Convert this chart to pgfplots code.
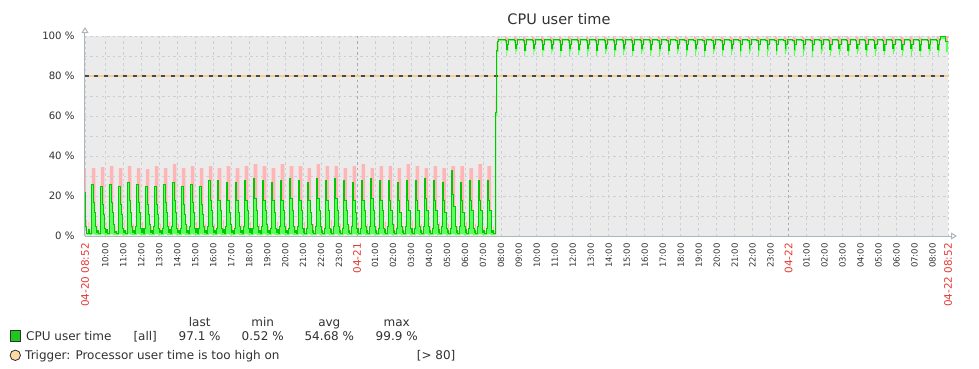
\documentclass[border=0pt]{standalone}
\usepackage{pgfplots}
\pgfplotsset{compat=1.18}
\usepackage{pgfplotstable}
\usepgfplotslibrary{fillbetween}
\usetikzlibrary{arrows.meta}
\usepackage{fontspec}
\setmainfont{DejaVu Sans}
\definecolor{zbg}{HTML}{EBEBEB}
\definecolor{zpink}{HTML}{FFB5B5}
\definecolor{zlgreen}{HTML}{5CFF5C}
\definecolor{zgreen}{HTML}{00C800}
\definecolor{zgrid}{HTML}{C9D1D5}
\definecolor{zday}{HTML}{A3ACB1}
\definecolor{zaxis}{HTML}{ACB6BD}
\definecolor{ztext}{HTML}{2F3133}
\definecolor{zred}{HTML}{E53935}
\definecolor{ztrig}{HTML}{F5D08A}
\definecolor{zdash}{HTML}{4A4A4A}
\definecolor{zleg}{HTML}{1DC71D}
\definecolor{zlegtrig}{HTML}{FFD9A3}
\pgfplotstableread{
t mn av mx
532 3 22 34
535 1 5 8
538 0.5 1.5 3
543 0.8 3.5 7
546 0.5 1.5 2.5
552 0.5 4 6
555 1 26 34
559 1 17 34
563 0.8 12 34
567 0.5 5 8
570 0.5 2 3
573 0.6 3 6
576 0.5 1.5 2.5
582 0.5 5 7
585 1 25 34.5
589 1 16 34.5
593 0.8 11 34.5
597 0.5 4 7
600 0.5 2 3
603 0.6 3.5 7
606 0.5 1.5 2.5
612 0.5 4 6
615 1 26 35
619 1 17 35
623 0.8 12 35
627 0.5 6 8
630 0.5 2 3
633 0.6 2.5 5
636 0.5 1.5 2.5
642 0.5 5 7
645 1 25 34
649 1 16 34
653 0.8 11 34
657 0.5 4 7
660 0.5 2 3
663 0.6 3 8
666 0.5 1.5 2.5
672 0.5 4 6
675 1 27 35
679 1 18 35
683 0.8 12 35
687 0.5 5 7
690 0.5 2 3
693 0.6 3 6
696 0.5 1.5 2.5
702 0.5 5 7
705 1 26 34
709 1 17 34
713 0.8 12 34
717 0.5 4 7
720 0.5 2 3
723 0.6 4 7
726 0.5 1.5 2.5
732 0.5 4 6
735 1 25 33.5
739 1 16 33.5
743 0.8 11 33.5
747 0.5 6 8
750 0.5 2 3
753 0.6 3 5
756 0.5 1.5 2.5
762 0.5 5 7
765 1 25 35
769 1 16 35
773 0.8 11 35
777 0.5 4 7
780 0.5 2 3
783 0.6 3 6
786 0.5 1.5 2.5
792 0.5 4 6
795 1 26 34
799 1 17 34
803 0.8 12 34
807 0.5 5 8
810 0.5 2 3
813 0.6 3.5 7
816 0.5 1.5 2.5
822 0.5 5 7
825 1 27 36
829 1 18 36
833 0.8 12 36
837 0.5 4 7
840 0.5 2 3
843 0.6 3 6
846 0.5 1.5 2.5
852 0.5 4 6
855 1 25 34
859 1 16 34
863 0.8 11 34
867 0.5 6 8
870 0.5 2 3
873 0.6 3 5
876 0.5 1.5 2.5
882 0.5 5 7
885 1 26 35
889 1 17 35
893 0.8 12 35
897 0.5 4 7
900 0.5 2 3
903 0.6 4 7
906 0.5 1.5 2.5
912 0.5 4 6
915 1 25 34
919 1 16 34
923 0.8 11 34
927 0.5 5 7
930 0.5 2 3
933 0.6 3 6
936 0.5 1.5 2.5
942 0.5 5 7
945 1 28 35
949 1 18 35
953 0.8 13 35
957 0.5 5 8
960 0.5 2 3
963 0.6 3 6
966 0.5 1.5 2.5
972 0.5 4 6
975 1 28 34
979 1 18 34
983 0.8 13 34
987 0.5 4 7
990 0.5 2 3
993 0.6 3.5 8
996 0.5 1.5 2.5
1002 0.5 5 7
1005 1 27 35
1009 1 18 35
1013 0.8 12 35
1017 0.5 6 8
1020 0.5 2 3
1023 0.6 3 5
1026 0.5 1.5 2.5
1032 0.5 4 6
1035 1 27 34
1039 1 18 34
1043 0.8 12 34
1047 0.5 5 8
1050 0.5 2 3
1053 0.6 3 6
1056 0.5 1.5 2.5
1062 0.5 5 7
1065 1 28 35
1069 1 18 35
1073 0.8 13 35
1077 0.5 4 7
1080 0.5 2 3
1083 0.6 4 7
1086 0.5 1.5 2.5
1092 0.5 4 6
1095 1 29 36
1099 1 19 36
1103 0.8 13 36
1107 0.5 5 7
1110 0.5 2 3
1113 0.6 3 6
1116 0.5 1.5 2.5
1122 0.5 5 7
1125 1 28 35
1129 1 18 35
1133 0.8 13 35
1137 0.5 6 8
1140 0.5 2 3
1143 0.6 3 5
1146 0.5 1.5 2.5
1152 0.5 4 6
1155 1 27 34
1159 1 18 34
1163 0.8 12 34
1167 0.5 4 7
1170 0.5 2 3
1173 0.6 3.5 7
1176 0.5 1.5 2.5
1182 0.5 5 7
1185 1 28 36
1189 1 18 36
1193 0.8 13 36
1197 0.5 5 8
1200 0.5 2 3
1203 0.6 3 6
1206 0.5 1.5 2.5
1212 0.5 4 6
1215 1 29 35
1219 1 19 35
1223 0.8 13 35
1227 0.5 5 7
1230 0.5 2 3
1233 0.6 3 5
1236 0.5 1.5 2.5
1242 0.5 5 7
1245 1 28 35
1249 1 18 35
1253 0.8 13 35
1257 0.5 4 7
1260 0.5 2 3
1263 0.6 4 7
1266 0.5 1.5 2.5
1272 0.5 4 6
1275 1 27 34
1279 1 18 34
1283 0.8 12 34
1287 0.5 6 8
1290 0.5 2 3
1293 0.6 3 6
1296 0.5 1.5 2.5
1302 0.5 5 7
1305 1 29 36
1309 1 19 36
1313 0.8 13 36
1317 0.5 5 7
1320 0.5 2 3
1323 0.6 3 5
1326 0.5 1.5 2.5
1332 0.5 4 6
1335 1 28 35
1339 1 18 35
1343 0.8 13 35
1347 0.5 4 7
1350 0.5 2 3
1353 0.6 3.5 8
1356 0.5 1.5 2.5
1362 0.5 5 7
1365 1 29 35
1369 1 19 35
1373 0.8 13 35
1377 0.5 5 8
1380 0.5 2 3
1383 0.6 3 6
1386 0.5 1.5 2.5
1392 0.5 4 6
1395 1 28 34
1399 1 18 34
1403 0.8 13 34
1407 0.5 6 8
1410 0.5 2 3
1413 0.6 3 5
1416 0.5 1.5 2.5
1422 0.5 5 7
1425 1 27 35
1429 1 18 35
1433 0.8 12 35
1437 0.5 4 7
1440 0.5 2 3
1443 0.6 4 7
1446 0.5 1.5 2.5
1452 0.5 4 6
1455 1 28 36
1459 1 18 36
1463 0.8 13 36
1467 0.5 5 8
1470 0.5 2 3
1473 0.6 3 6
1476 0.5 1.5 2.5
1482 0.5 5 7
1485 1 29 34
1489 1 19 34
1493 0.8 13 34
1497 0.5 5 7
1500 0.5 2 3
1503 0.6 3 5
1506 0.5 1.5 2.5
1512 0.5 4 6
1515 1 28 35
1519 1 18 35
1523 0.8 13 35
1527 0.5 4 7
1530 0.5 2 3
1533 0.6 3.5 7
1536 0.5 1.5 2.5
1542 0.5 5 7
1545 1 28 35
1549 1 18 35
1553 0.8 13 35
1557 0.5 6 8
1560 0.5 2 3
1563 0.6 3 6
1566 0.5 1.5 2.5
1572 0.5 4 6
1575 1 27 34
1579 1 18 34
1583 0.8 12 34
1587 0.5 5 7
1590 0.5 2 3
1593 0.6 3 5
1596 0.5 1.5 2.5
1602 0.5 5 7
1605 1 28 36
1609 1 18 36
1613 0.8 13 36
1617 0.5 4 7
1620 0.5 2 3
1623 0.6 4 8
1626 0.5 1.5 2.5
1632 0.5 4 6
1635 1 28 35
1639 1 18 35
1643 0.8 13 35
1647 0.5 5 8
1650 0.5 2 3
1653 0.6 3 6
1656 0.5 1.5 2.5
1662 0.5 5 7
1665 1 29 34
1669 1 19 34
1673 0.8 13 34
1677 0.5 5 7
1680 0.5 2 3
1683 0.6 3 5
1686 0.5 1.5 2.5
1692 0.5 4 6
1695 1 28 35
1699 1 18 35
1703 0.8 13 35
1707 0.5 6 8
1710 0.5 2 3
1713 0.6 3.5 7
1716 0.5 1.5 2.5
1722 0.5 5 7
1725 1 27 34
1729 1 18 34
1733 0.8 12 34
1737 0.5 4 7
1740 0.5 2 3
1743 0.6 3 6
1746 0.5 1.5 2.5
1752 0.5 4 6
1755 1 33 35
1759 1 21 35
1763 0.8 15 35
1767 0.5 5 7
1770 0.5 2 3
1773 0.6 3 5
1776 0.5 1.5 2.5
1782 0.5 5 7
1785 1 27 35
1789 1 18 35
1793 0.8 12 35
1797 0.5 5 8
1800 0.5 2 3
1803 0.6 3.5 7
1806 0.5 1.5 2.5
1812 0.5 4 6
1815 1 28 34
1819 1 18 34
1823 0.8 13 34
1827 0.5 4 7
1830 0.5 2 3
1833 0.6 3 6
1836 0.5 1.5 2.5
1842 0.5 5 7
1845 1 28 36
1849 1 18 36
1853 0.8 13 36
1857 0.5 6 8
1860 0.5 2 3
1863 0.6 3 5
1866 0.5 1.5 2.5
1872 0.5 4 6
1875 1 28 35
1879 1 18 35
1883 0.8 13 35
1887 0.5 5 7
1890 0.5 2 3
1893 0.6 3 5
1896 0.5 1.5 2.5
1902 1 62 70
1905 60 93 97
1908 92 97.5 99.5
1912 97.6 98.3 98.4
1934 96.5 98 100
1938 90 93.5 99.5
1941 92.5 96 99
1945 97.6 98.3 98.4
1964 96.5 98 100
1968 91 94 99.5
1971 92.5 96 99
1975 97.6 98.3 98.4
1994 96.5 98 100
1998 90 93 99.5
2001 92.5 96 99
2005 97.6 98.3 98.4
2024 96.5 98 100
2028 90.5 94 99.5
2031 92.5 96 99
2035 97.6 98.3 98.4
2054 96.5 98 100
2058 90 93.5 99.5
2061 92.5 96 99
2065 97.6 98.3 98.4
2084 96.5 98 100
2088 91 94 99.5
2091 92.5 96 99
2095 97.6 98.3 98.4
2114 96.5 98 100
2118 89.5 93 99.5
2121 92.5 96 99
2125 97.6 98.3 98.4
2144 96.5 98 100
2148 90 94 99.5
2151 92.5 96 99
2155 97.6 98.3 98.4
2174 96.5 98 100
2178 90.5 93.5 99.5
2181 92.5 96 99
2185 97.6 98.3 98.4
2204 96.5 98 100
2208 90 94 99.5
2211 92.5 96 99
2215 97.6 98.3 98.4
2234 96.5 98 100
2238 90 93 99.5
2241 92.5 96 99
2245 97.6 98.3 98.4
2264 96.5 98 100
2268 91 94 99.5
2271 92.5 96 99
2275 97.6 98.3 98.4
2294 96.5 98 100
2298 90 93.5 99.5
2301 92.5 96 99
2305 97.6 98.3 98.4
2324 96.5 98 100
2328 90.5 94 99.5
2331 92.5 96 99
2335 97.6 98.3 98.4
2354 96.5 98 100
2358 90 93 99.5
2361 92.5 96 99
2365 97.6 98.3 98.4
2384 96.5 98 100
2388 91 94 99.5
2391 92.5 96 99
2395 97.6 98.3 98.4
2414 96.5 98 100
2418 90 93.5 99.5
2421 92.5 96 99
2425 97.6 98.3 98.4
2444 96.5 98 100
2448 90 94 99.5
2451 92.5 96 99
2455 97.6 98.3 98.4
2474 96.5 98 100
2478 90.5 93 99.5
2481 92.5 96 99
2485 97.6 98.3 98.4
2504 96.5 98 100
2508 91 94 99.5
2511 92.5 96 99
2515 97.6 98.3 98.4
2534 96.5 98 100
2538 90 93.5 99.5
2541 92.5 96 99
2545 97.6 98.3 98.4
2564 96.5 98 100
2568 90 94 99.5
2571 92.5 96 99
2575 97.6 98.3 98.4
2594 96.5 98 100
2598 89.5 93 99.5
2601 92.5 96 99
2605 97.6 98.3 98.4
2624 96.5 98 100
2628 91 94 99.5
2631 92.5 96 99
2635 97.6 98.3 98.4
2654 96.5 98 100
2658 90 93.5 99.5
2661 92.5 96 99
2665 97.6 98.3 98.4
2684 96.5 98 100
2688 90.5 94 99.5
2691 92.5 96 99
2695 97.6 98.3 98.4
2714 96.5 98 100
2718 90 93 99.5
2721 92.5 96 99
2725 97.6 98.3 98.4
2744 96.5 98 100
2748 91 94 99.5
2751 92.5 96 99
2755 97.6 98.3 98.4
2774 96.5 98 100
2778 90 93.5 99.5
2781 92.5 96 99
2785 97.6 98.3 98.4
2804 96.5 98 100
2808 90 94 99.5
2811 92.5 96 99
2815 97.6 98.3 98.4
2834 96.5 98 100
2838 90.5 93 99.5
2841 92.5 96 99
2845 97.6 98.3 98.4
2864 96.5 98 100
2868 91 94 99.5
2871 92.5 96 99
2875 97.6 98.3 98.4
2894 96.5 98 100
2898 90 93.5 99.5
2901 92.5 96 99
2905 97.6 98.3 98.4
2924 96.5 98 100
2928 90 94 99.5
2931 92.5 96 99
2935 97.6 98.3 98.4
2954 96.5 98 100
2958 89.5 93 99.5
2961 92.5 96 99
2965 97.6 98.3 98.4
2984 96.5 98 100
2988 91 94 99.5
2991 92.5 96 99
2995 97.6 98.3 98.4
3014 96.5 98 100
3018 90 93.5 99.5
3021 92.5 96 99
3025 97.6 98.3 98.4
3044 96.5 98 100
3048 90.5 94 99.5
3051 92.5 96 99
3055 97.6 98.3 98.4
3074 96.5 98 100
3078 90 93 99.5
3081 92.5 96 99
3085 97.6 98.3 98.4
3104 96.5 98 100
3108 91 94 99.5
3111 92.5 96 99
3115 97.6 98.3 98.4
3134 96.5 98 100
3138 90 93.5 99.5
3141 92.5 96 99
3145 97.6 98.3 98.4
3164 96.5 98 100
3168 90 94 99.5
3171 92.5 96 99
3175 97.6 98.3 98.4
3194 96.5 98 100
3198 90.5 93 99.5
3201 92.5 96 99
3205 97.6 98.3 98.4
3224 96.5 98 100
3228 91 94 99.5
3231 92.5 96 99
3235 97.6 98.3 98.4
3254 96.5 98 100
3258 90 93.5 99.5
3261 92.5 96 99
3265 97.6 98.3 98.4
3284 96.5 98 100
3288 90 94 99.5
3291 92.5 96 99
3295 97.6 98.3 98.4
3314 96.5 98 100
3318 89.5 93 99.5
3321 92.5 96 99
3325 97.6 98.3 98.4
3344 96.5 98 100
3348 90.5 94 99.5
3351 92.5 96 99
3355 97.6 98.3 98.4
3374 96.5 98 100
3378 90 93.5 99.5
3381 92.5 96 99
3385 97.6 98.3 98.4
3388 98.5 99.8 99.9
3405 92 97.1 99.9
3412 92 97.1 99.9
}\cpudata
\newcommand{\rl}[1]{{\fontsize{10.4}{12}\selectfont\color{zred}#1}}
\begin{document}
\begin{tikzpicture}[x=1pt,y=1pt]
\begin{axis}[
  at={(0,0)}, anchor=south west, scale only axis,
  width=863pt, height=200pt,
  xmin=532, xmax=3412, ymin=0, ymax=100,
  axis lines=left,
  axis line style={draw=zaxis, line width=1pt, -{Triangle[open,length=6pt,width=7pt]}, shorten >=-9pt},
  axis background/.style={fill=zbg},
  tick style={draw=none},
  xtick={532,600,660,720,780,840,900,960,1020,1080,1140,1200,1260,1320,1380,1500,1560,1620,1680,1740,1800,1860,1920,1980,2040,2100,2160,2220,2280,2340,2400,2460,2520,2580,2640,2700,2760,2820,2940,3000,3060,3120,3180,3240,3300,3360,3412},
  xticklabels={\rl{04-20 08:52},10:00,11:00,12:00,13:00,14:00,15:00,16:00,17:00,18:00,19:00,20:00,21:00,22:00,23:00,01:00,02:00,03:00,04:00,05:00,06:00,07:00,08:00,09:00,10:00,11:00,12:00,13:00,14:00,15:00,16:00,17:00,18:00,19:00,20:00,21:00,22:00,23:00,01:00,02:00,03:00,04:00,05:00,06:00,07:00,08:00,\rl{04-22 08:52}},
  extra x ticks={1440,2880},
  extra x tick labels={\rl{04-21},\rl{04-22}},
  extra x tick style={grid style={draw=zday, dash pattern=on 2.5pt off 3pt, line width=0.8pt}},
  x tick label style={rotate=90, anchor=east, inner sep=0pt, font=\fontsize{8.5}{10}\selectfont, text=ztext},
  xticklabel shift=5pt,
  ytick={0,20,40,60,80,100},
  yticklabels={0 \%,20 \%,40 \%,60 \%,80 \%,100 \%},
  minor ytick={10,30,50,70,90},
  y tick label style={inner sep=0pt, font=\fontsize{10.2}{12}\selectfont, text=ztext},
  yticklabel shift=8pt,
  xmajorgrids, ymajorgrids, yminorgrids,
  grid style={draw=zgrid, dash pattern=on 2.5pt off 3pt, line width=0.8pt},
  minor grid style={draw=zgrid, dash pattern=on 2.5pt off 3pt, line width=0.8pt},
]
\addplot[name path=mx, draw=none, const plot] table[x=t,y=mx]{\cpudata};
\addplot[name path=av, draw=none, const plot] table[x=t,y=av]{\cpudata};
\addplot[name path=mn, draw=none, const plot] table[x=t,y=mn]{\cpudata};
\addplot[fill=zpink, draw=none] fill between[of=av and mx];
\addplot[fill=zlgreen, draw=none] fill between[of=mn and av];
\addplot[draw=ztrig, line width=2.2pt, forget plot] coordinates {(532,80) (3412,80)};
\addplot[draw=zdash, line width=1.8pt, dash pattern=on 4pt off 5.5pt, forget plot] coordinates {(532,80) (3412,80)};
\addplot[draw=zgreen, line width=0.9pt, const plot] table[x=t,y=av]{\cpudata};
\end{axis}
\node[font=\fontsize{14.5}{17}\selectfont, text=ztext] at (474,217) {CPU user time};
\begin{scope}[every node/.style={font=\fontsize{12}{14}\selectfont, text=ztext, inner sep=0pt}]
\node[anchor=base] at (114.7,-90.7) {last};
\node[anchor=base] at (177.7,-90.7) {min};
\node[anchor=base] at (244.3,-90.7) {avg};
\node[anchor=base] at (311.7,-90.7) {max};
\fill[zleg, draw=ztext, line width=0.8pt] (-75,-105) rectangle (-64.3,-94.3);
\node[anchor=base west] at (-59,-104) {CPU user time};
\node[anchor=base west] at (48.3,-104) {[all]};
\node[anchor=base] at (114.7,-104) {97.1 \%};
\node[anchor=base] at (177.7,-104) {0.52 \%};
\node[anchor=base] at (244.3,-104) {54.68 \%};
\node[anchor=base] at (311.7,-104) {99.9 \%};
\fill[zlegtrig, draw=ztext, line width=0.8pt] (-69.7,-119.3) circle (5.2);
\node[anchor=base west] at (-60,-123) {Trigger: Processor user time is too high on};
\node[anchor=base west] at (331.7,-123) {[> 80]};
\end{scope}
\pgfresetboundingbox
\path[use as bounding box] (-85,-132) rectangle (894,236);
\end{tikzpicture}
\end{document}
